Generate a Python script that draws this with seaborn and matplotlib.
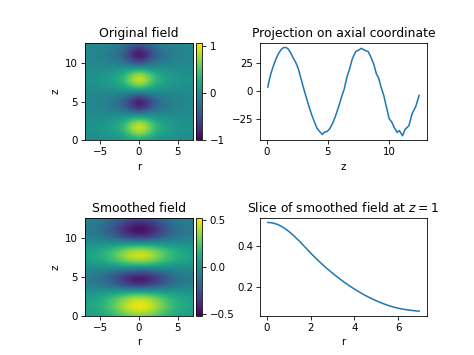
import numpy as np
import matplotlib
matplotlib.use("Agg")
import matplotlib.pyplot as plt
import seaborn as sns

DPI = 74
W, H = 474, 355

# ---- data ----
z_nodes = [0.0, 0.78, 1.56, 2.34, 3.12, 3.9, 4.68, 5.46, 6.24, 7.02, 7.8, 8.58, 9.36, 10.14, 10.92, 11.7, 12.48]
r_orig = [-7, -6, -5, -4, -3, -2, -1, 0, 1, 2, 3, 4, 5, 6, 7]
original = [
 [0.01, 0.01, 0.02, 0.03, 0.04, 0.08, 0.14, 0.18, 0.14, 0.08, 0.04, 0.03, 0.02, 0.01, 0.01],
 [0.03, 0.04, 0.06, 0.10, 0.16, 0.28, 0.53, 0.72, 0.53, 0.28, 0.16, 0.10, 0.06, 0.04, 0.03],
 [0.04, 0.06, 0.09, 0.15, 0.24, 0.42, 0.80, 1.06, 0.80, 0.42, 0.24, 0.15, 0.09, 0.06, 0.04],
 [0.03, 0.05, 0.07, 0.11, 0.18, 0.31, 0.58, 0.80, 0.58, 0.31, 0.18, 0.11, 0.07, 0.05, 0.03],
 [0.00, 0.01, 0.01, 0.02, 0.03, 0.05, 0.09, 0.13, 0.09, 0.05, 0.03, 0.02, 0.01, 0.01, 0.00],
 [-0.02, -0.03, -0.05, -0.09, -0.14, -0.24, -0.44, -0.62, -0.44, -0.24, -0.14, -0.09, -0.05, -0.03, -0.02],
 [-0.03, -0.05, -0.09, -0.14, -0.23, -0.40, -0.76, -1.00, -0.76, -0.40, -0.23, -0.14, -0.09, -0.05, -0.03],
 [-0.02, -0.04, -0.06, -0.10, -0.16, -0.27, -0.50, -0.70, -0.50, -0.27, -0.16, -0.10, -0.06, -0.04, -0.02],
 [0.00, 0.00, 0.00, 0.01, 0.01, 0.02, 0.03, 0.04, 0.03, 0.02, 0.01, 0.01, 0.00, 0.00, 0.00],
 [0.02, 0.04, 0.06, 0.10, 0.16, 0.27, 0.50, 0.70, 0.50, 0.27, 0.16, 0.10, 0.06, 0.04, 0.02],
 [0.04, 0.06, 0.09, 0.15, 0.24, 0.42, 0.80, 1.06, 0.80, 0.42, 0.24, 0.15, 0.09, 0.06, 0.04],
 [0.02, 0.04, 0.06, 0.10, 0.17, 0.29, 0.52, 0.74, 0.52, 0.29, 0.17, 0.10, 0.06, 0.04, 0.02],
 [0.00, 0.00, 0.00, 0.00, 0.00, 0.01, 0.01, 0.02, 0.01, 0.01, 0.00, 0.00, 0.00, 0.00, 0.00],
 [-0.02, -0.04, -0.06, -0.09, -0.15, -0.26, -0.48, -0.68, -0.48, -0.26, -0.15, -0.09, -0.06, -0.04, -0.02],
 [-0.03, -0.05, -0.09, -0.15, -0.24, -0.41, -0.78, -1.00, -0.78, -0.41, -0.24, -0.15, -0.09, -0.05, -0.03],
 [-0.02, -0.04, -0.07, -0.11, -0.18, -0.31, -0.57, -0.78, -0.57, -0.31, -0.18, -0.11, -0.07, -0.04, -0.02],
 [-0.01, -0.02, -0.03, -0.05, -0.08, -0.13, -0.24, -0.32, -0.24, -0.13, -0.08, -0.05, -0.03, -0.02, -0.01],
]
r_smooth = [-7, -5.6, -4.2, -2.8, -1.4, 0, 1.4, 2.8, 4.2, 5.6, 7]
smoothed = [
 [0.05, 0.06, 0.11, 0.18, 0.26, 0.30, 0.26, 0.18, 0.11, 0.06, 0.05],
 [0.08, 0.11, 0.18, 0.30, 0.44, 0.50, 0.44, 0.30, 0.18, 0.11, 0.08],
 [0.09, 0.11, 0.19, 0.32, 0.46, 0.525, 0.46, 0.32, 0.19, 0.11, 0.09],
 [0.07, 0.09, 0.15, 0.25, 0.37, 0.42, 0.37, 0.25, 0.15, 0.09, 0.07],
 [0.02, 0.02, 0.04, 0.06, 0.09, 0.10, 0.09, 0.06, 0.04, 0.02, 0.02],
 [-0.05, -0.07, -0.12, -0.20, -0.29, -0.33, -0.29, -0.20, -0.12, -0.07, -0.05],
 [-0.08, -0.11, -0.18, -0.30, -0.44, -0.51, -0.44, -0.30, -0.18, -0.11, -0.08],
 [-0.06, -0.08, -0.13, -0.22, -0.32, -0.36, -0.32, -0.22, -0.13, -0.08, -0.06],
 [0.00, 0.00, 0.00, 0.00, 0.00, 0.00, 0.00, 0.00, 0.00, 0.00, 0.00],
 [0.06, 0.08, 0.13, 0.22, 0.32, 0.36, 0.32, 0.22, 0.13, 0.08, 0.06],
 [0.08, 0.11, 0.18, 0.30, 0.44, 0.50, 0.44, 0.30, 0.18, 0.11, 0.08],
 [0.06, 0.08, 0.14, 0.23, 0.33, 0.38, 0.33, 0.23, 0.14, 0.08, 0.06],
 [0.00, 0.00, 0.01, 0.01, 0.02, 0.02, 0.02, 0.01, 0.01, 0.00, 0.00],
 [-0.06, -0.08, -0.13, -0.22, -0.32, -0.36, -0.32, -0.22, -0.13, -0.08, -0.06],
 [-0.09, -0.11, -0.19, -0.31, -0.46, -0.52, -0.46, -0.31, -0.19, -0.11, -0.09],
 [-0.08, -0.10, -0.17, -0.28, -0.41, -0.47, -0.41, -0.28, -0.17, -0.10, -0.08],
 [-0.05, -0.06, -0.11, -0.18, -0.26, -0.30, -0.26, -0.18, -0.11, -0.06, -0.05],
]
proj_z = [0.1, 0.19, 0.35, 0.54, 0.74, 0.95, 1.17, 1.36, 1.58, 1.77, 1.99, 2.18, 2.37, 2.59, 2.81,
          3.03, 3.25, 3.47, 3.69, 3.90, 4.12, 4.34, 4.56, 4.72, 4.94, 5.16, 5.38, 5.60, 5.87, 6.14,
          6.34, 6.55, 6.77, 6.99, 7.27, 7.51, 7.73, 7.98, 8.30, 8.52, 8.74, 8.96, 9.15, 9.34, 9.56,
          9.78, 10.0, 10.21, 10.43, 10.65, 10.84, 11.09, 11.31, 11.61, 11.88, 12.16, 12.45]
proj_v = [3.3, 8.5, 15.5, 21.9, 27.9, 32.9, 36.7, 38.5, 38.8, 37.3, 33.4, 29.1, 25.5, 19.6, 10.7,
          1.8, -6.5, -14.5, -21.9, -27.9, -33.8, -36.7, -39.1, -37.0, -36.4, -33.8, -29.3, -23.4, -14.5, -4.8,
          1.8, 12.1, 19.6, 28.4, 35.0, 36.4, 38.0, 36.4, 35.0, 29.9, 24.0, 15.1, 11.3, 3.3, -4.1,
          -14.5, -24.9, -28.0, -33.2, -37.3, -35.6, -40.3, -34.4, -31.4, -20.4, -14.5, -4.1]
slice_r = [0.05, 0.25, 0.5, 0.75, 1, 1.25, 1.5, 1.75, 2, 2.25, 2.5, 2.75, 3, 3.25, 3.5, 3.75, 4,
           4.25, 4.5, 4.75, 5, 5.25, 5.5, 5.75, 6, 6.25, 6.5, 6.75, 6.95]
slice_v = [0.515, 0.513, 0.505, 0.491, 0.472, 0.449, 0.423, 0.395, 0.367, 0.340, 0.315, 0.291, 0.269,
           0.248, 0.228, 0.209, 0.192, 0.176, 0.161, 0.147, 0.135, 0.124, 0.114, 0.106, 0.099, 0.094,
           0.090, 0.087, 0.085]


def box(x0, x1, y0, y1):
    return [x0 / W, 1 - y1 / H, (x1 - x0) / W, (y1 - y0) / H]


def field(ax, cax, rs, zs, vals, vmin, vmax, ticks, title):
    dr = (rs[1] - rs[0]) / 2
    dz = (zs[1] - zs[0]) / 2
    im = ax.imshow(np.array(vals), origin="lower", cmap="viridis", vmin=vmin, vmax=vmax,
                   aspect="auto", interpolation="bicubic",
                   extent=[rs[0] - dr, rs[-1] + dr, zs[0] - dz, zs[-1] + dz])
    ax.set_xlim(-7, 7)
    ax.set_ylim(0, 12.6)
    ax.set_xticks([-5, 0, 5])
    ax.set_yticks([0, 5, 10])
    ax.set_xlabel("r")
    ax.set_ylabel("z")
    ax.set_title(title)
    fig.colorbar(im, cax=cax, ticks=ticks)


fig = plt.figure(figsize=(W / DPI, H / DPI), dpi=DPI)
a1 = fig.add_axes(box(84.7, 193.3, 43, 140.2))
c1 = fig.add_axes(box(195.7, 202.3, 43, 140.2))
a2 = fig.add_axes(box(260.3, 426.7, 43, 140.2))
a3 = fig.add_axes(box(84.7, 193.3, 218, 315.6))
c3 = fig.add_axes(box(195.7, 202.3, 218, 315.6))
a4 = fig.add_axes(box(260.3, 426.7, 218, 315.6))

field(a1, c1, r_orig, z_nodes, original, -1.0, 1.07, [-1, 0, 1], "Original field")
field(a3, c3, r_smooth, z_nodes, smoothed, -0.52, 0.525, [-0.5, 0.0, 0.5], "Smoothed field")

sns.lineplot(x=proj_z, y=proj_v, ax=a2, color="C0", errorbar=None)
a2.set_xlabel("z")
a2.set_title("Projection on axial coordinate")

sns.lineplot(x=slice_r, y=slice_v, ax=a4, color="C0", errorbar=None)
a4.set_xlabel("r")
a4.set_yticks([0.2, 0.4])
a4.set_title("Slice of smoothed field at $z=1$")

fig.savefig("out.png", dpi=DPI)
